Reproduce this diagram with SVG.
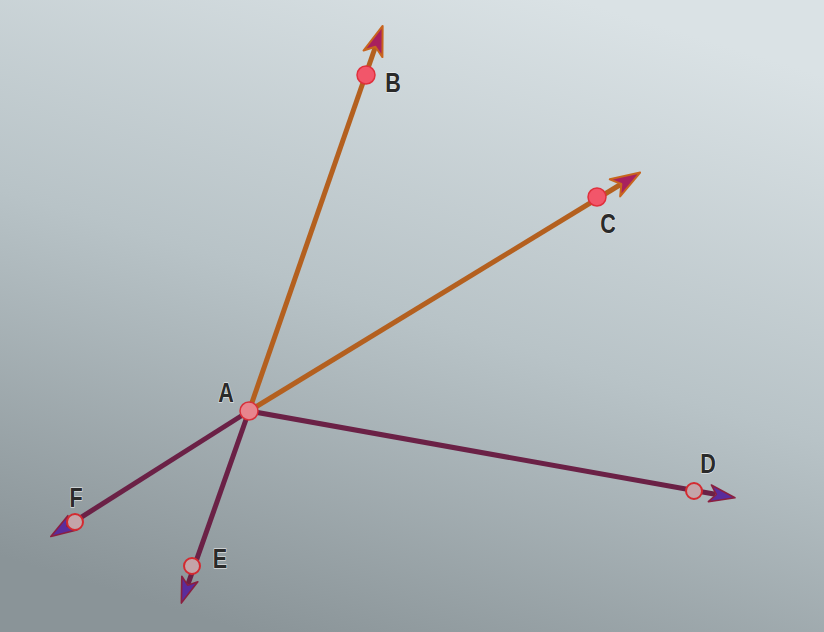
<svg xmlns="http://www.w3.org/2000/svg" width="824" height="632" viewBox="0 0 824 632">
<defs>
<linearGradient id="bg" x1="0.7" y1="0" x2="0.3" y2="1">
<stop offset="0" stop-color="#dae2e5"/>
<stop offset="0.5" stop-color="#b8c3c7"/>
<stop offset="1" stop-color="#8a9498"/>
</linearGradient>
<marker id="aw" viewBox="0 0 32 24" refX="8" refY="12" markerWidth="32" markerHeight="24" markerUnits="userSpaceOnUse" orient="auto">
<path d="M1.5,2 L31,12 L1.5,22 L9,12 Z" fill="#a8205e" stroke="#c8641e" stroke-width="2" stroke-linejoin="round"/>
</marker>
<marker id="ap" viewBox="0 0 28 21" refX="7" refY="10.5" markerWidth="28" markerHeight="21" markerUnits="userSpaceOnUse" orient="auto">
<path d="M1.5,2 L27,10.5 L1.5,19 L8,10.5 Z" fill="#5a2c9c" stroke="#8a2040" stroke-width="1.6" stroke-linejoin="round"/>
</marker>
</defs>
<style>
.warm{stroke:#b4601f;stroke-width:5;fill:none}
.cool{stroke:#6b2146;stroke-width:5;fill:none}
.ptf{fill:#f2566a;stroke:#e0303c;stroke-width:1.5}
.pth{fill:#c4a4a8;stroke:#d42a30;stroke-width:2}
.lbl{font-family:"Liberation Sans","DejaVu Sans",sans-serif;font-size:27px;font-weight:bold;fill:#2a2a2a;stroke:#f4f4f4;stroke-width:1;paint-order:stroke;text-anchor:middle}
</style>
<rect width="824" height="632" fill="url(#bg)"/>
<g id="connectors">
<line class="warm" x1="249" y1="411" x2="375.1" y2="47.7" marker-end="url(#aw)"/>
<line class="warm" x1="249" y1="411" x2="620.5" y2="184.5" marker-end="url(#aw)"/>
<line class="cool" x1="249" y1="411" x2="715.3" y2="494.3" marker-end="url(#ap)"/>
<line class="cool" x1="249" y1="411" x2="188" y2="584.2" marker-end="url(#ap)"/>
<line class="cool" x1="249" y1="411" x2="67.7" y2="525.8" marker-end="url(#ap)"/>
</g>
<g id="A"><circle cx="249" cy="411" r="9" fill="#e8858e" stroke="#d8303a" stroke-width="1.5"/><text class="lbl" transform="translate(226 402) scale(0.8 1)">A</text></g>
<g id="B"><circle class="ptf" cx="366" cy="75" r="9"/><text class="lbl" transform="translate(393 92) scale(0.8 1)">B</text></g>
<g id="C"><circle class="ptf" cx="597" cy="197" r="9"/><text class="lbl" transform="translate(608 233) scale(0.8 1)">C</text></g>
<g id="D"><circle class="pth" cx="694" cy="491" r="8"/><text class="lbl" transform="translate(708 473) scale(0.8 1)">D</text></g>
<g id="E"><circle class="pth" cx="192" cy="566" r="8"/><text class="lbl" transform="translate(220 568) scale(0.8 1)">E</text></g>
<g id="F"><circle class="pth" cx="75" cy="522" r="8"/><text class="lbl" transform="translate(76 507) scale(0.8 1)">F</text></g>
</svg>
